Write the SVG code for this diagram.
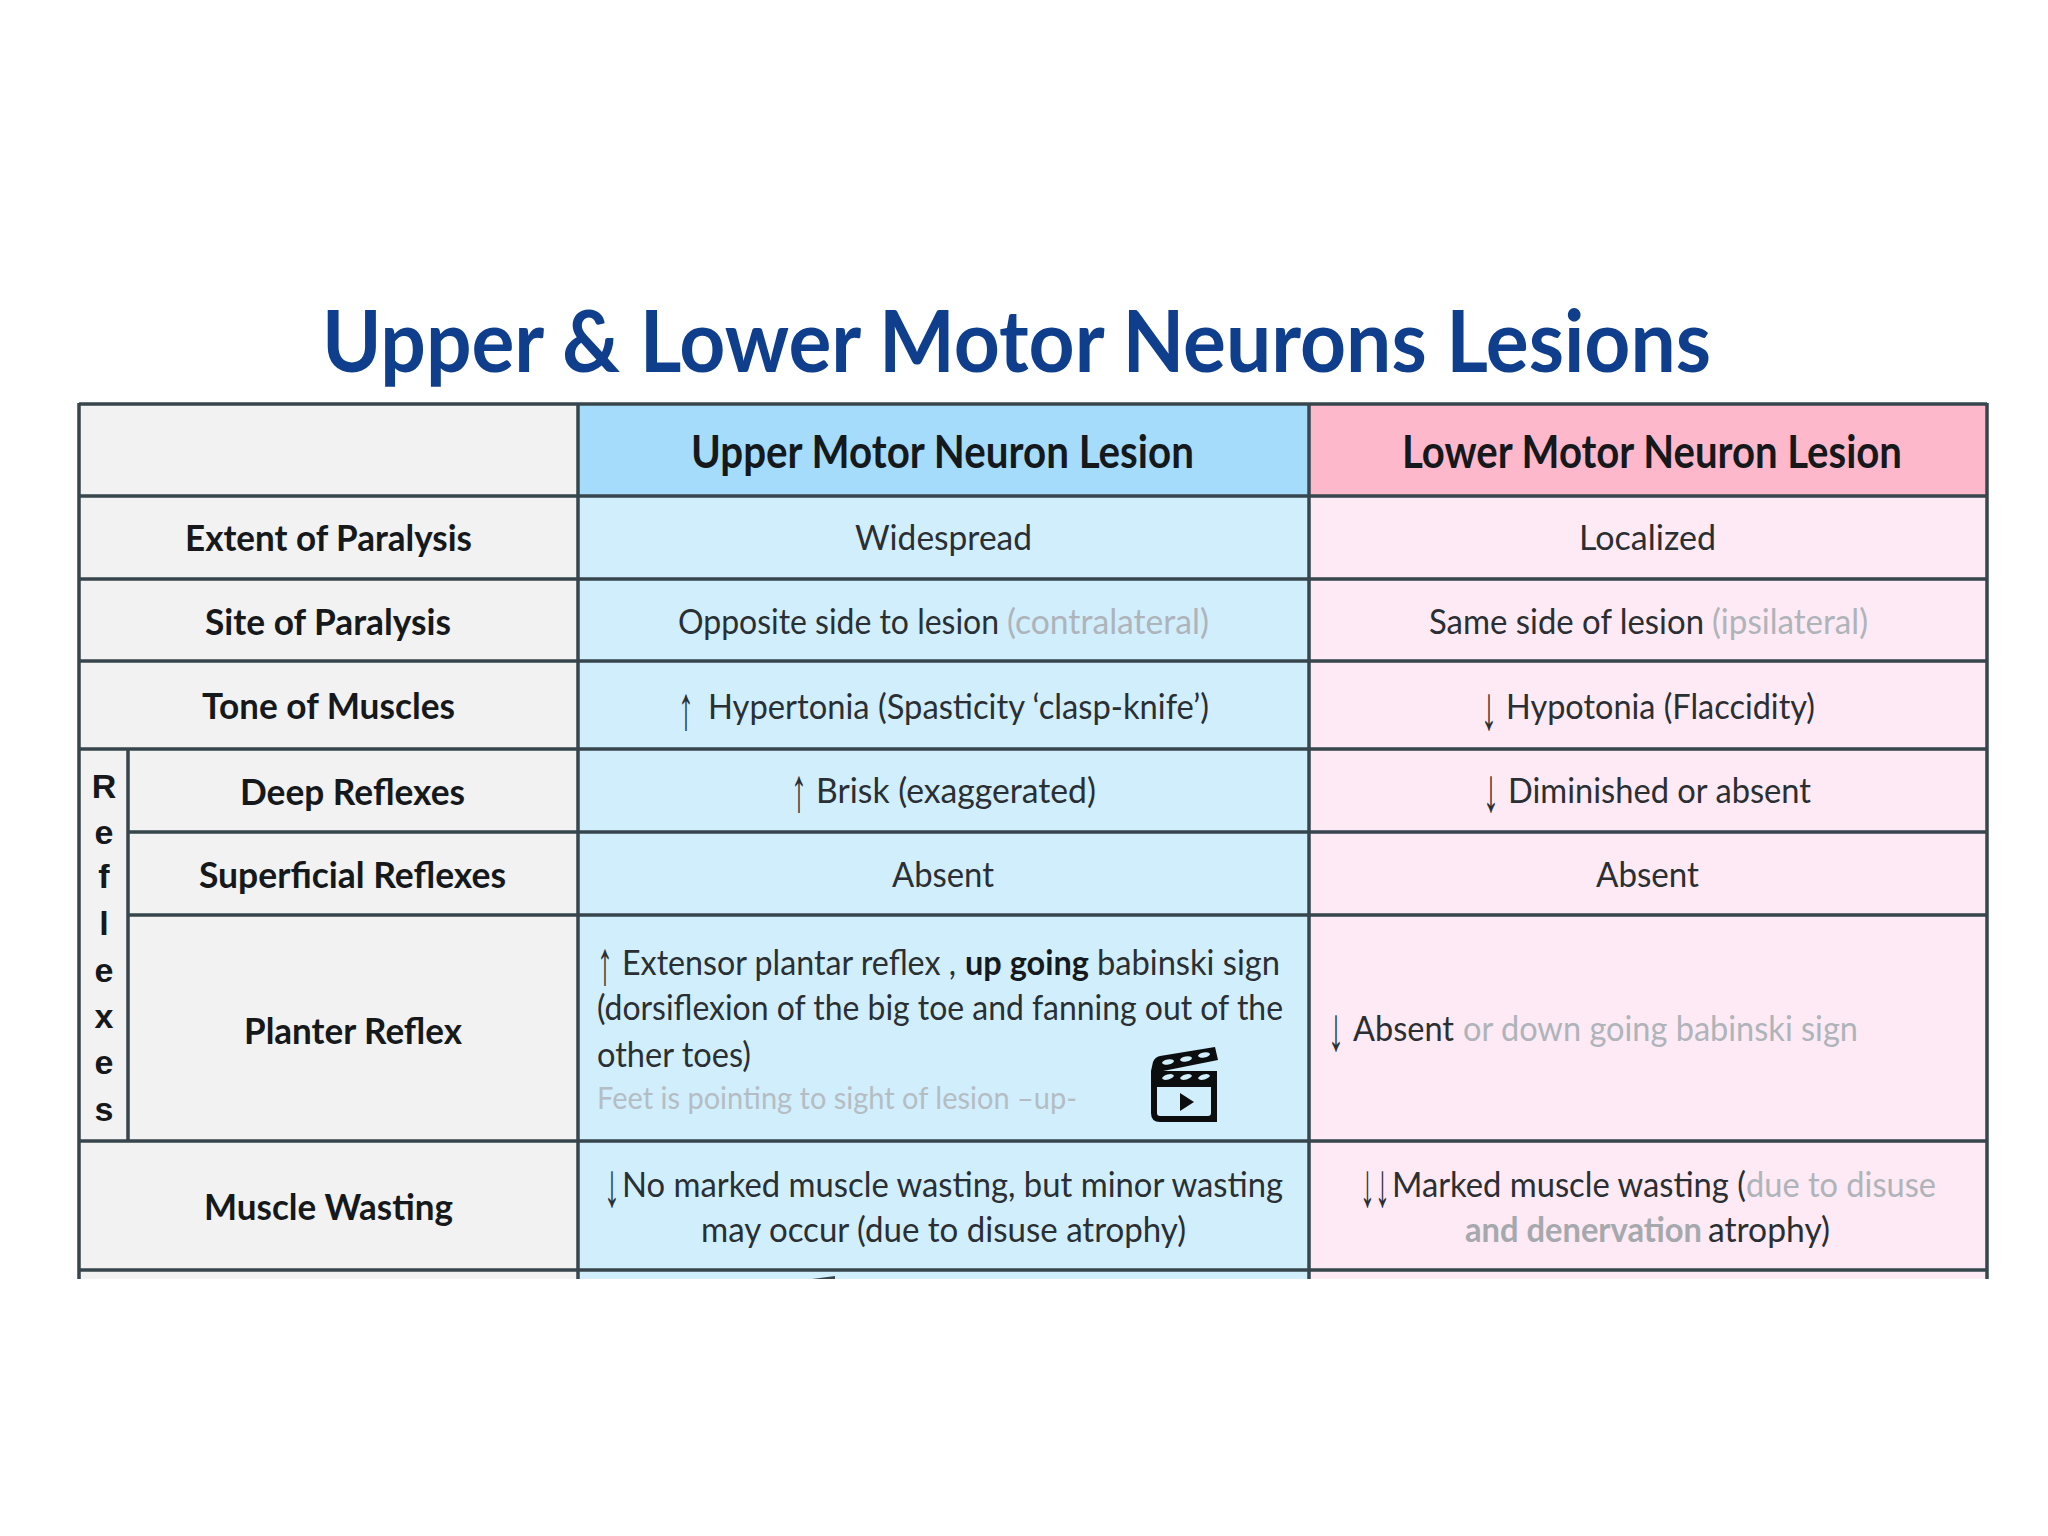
<svg xmlns="http://www.w3.org/2000/svg" width="2048" height="1536" viewBox="0 0 2048 1536">
<style>
text{font-family:"Lato","Liberation Sans",sans-serif;fill:#2a2f33;font-size:35px}
.t{fill:#0f3f8c;font-size:86px;font-weight:700}
.h{fill:#15191c;font-size:45px;font-weight:700}
.l{fill:#15191c;font-size:37px;font-weight:700}
.r{fill:#15191c;font-size:34px;font-weight:700;text-anchor:middle;font-family:"Liberation Sans",sans-serif}
.g{fill:#aeb4b9}
.f{fill:#b5bdc3;font-size:31px}
.b{font-weight:700;fill:#15191c}
.gb{font-weight:700;fill:#a5a9ad}
.a{font-family:"Liberation Sans",sans-serif;font-size:62px;text-anchor:middle}
.ln{stroke:#37464c;stroke-width:3.5;fill:none}
</style>
<defs><clipPath id="c"><rect x="0" y="0" width="2048" height="1279"/></clipPath></defs>
<rect width="2048" height="1536" fill="#fff"/>
<text class="t" x="322" y="372" textLength="1389" lengthAdjust="spacingAndGlyphs">Upper &amp; Lower Motor Neurons Lesions</text>
<g id="table" clip-path="url(#c)">
<rect x="79" y="404" width="498" height="880" fill="#f2f2f2"/>
<rect x="577" y="404" width="732" height="91" fill="#a6dcfb"/>
<rect x="1309" y="404" width="678" height="91" fill="#fdb8cb"/>
<rect x="577" y="495" width="732" height="790" fill="#d1eefd"/>
<rect x="1309" y="495" width="678" height="790" fill="#fdeaf4"/>
<path class="ln" d="M79 404H1987M79 496H1987M79 579H1987M79 661H1987M79 749H1987M128 832H1987M128 915H1987M79 1141H1987M79 1270H1987M79 403V1284M578 403V1284M1309 403V1284M1987 403V1284M128 749V1141"/>
<path d="M812 1279L835 1276V1280H812Z" fill="#37464c"/>
</g>
<g id="headers">
<text class="h" x="691" y="468" textLength="503" lengthAdjust="spacingAndGlyphs">Upper Motor Neuron Lesion</text>
<text class="h" x="1402" y="468" textLength="500" lengthAdjust="spacingAndGlyphs">Lower Motor Neuron Lesion</text>
</g>
<g id="row-labels" transform="translate(0,-1)">
<text class="l" x="185" y="552" textLength="287" lengthAdjust="spacingAndGlyphs">Extent of Paralysis</text>
<text class="l" x="205" y="636" textLength="246" lengthAdjust="spacingAndGlyphs">Site of Paralysis</text>
<text class="l" x="202" y="720" textLength="253" lengthAdjust="spacingAndGlyphs">Tone of Muscles</text>
<text class="l" x="240" y="806" textLength="225" lengthAdjust="spacingAndGlyphs">Deep Reflexes</text>
<text class="l" x="199" y="889" textLength="307" lengthAdjust="spacingAndGlyphs">Superficial Reflexes</text>
<text class="l" x="244" y="1045" textLength="218" lengthAdjust="spacingAndGlyphs">Planter Reflex</text>
<text class="l" x="204" y="1221" textLength="249" lengthAdjust="spacingAndGlyphs">Muscle Wasting</text>
</g>
<g id="reflexes" transform="translate(0,-1)">
<text class="r" x="104" y="799">R</text><text class="r" x="104" y="845">e</text><text class="r" x="104" y="889">f</text><text class="r" x="104" y="936">l</text><text class="r" x="104" y="983">e</text><text class="r" x="104" y="1029">x</text><text class="r" x="104" y="1075">e</text><text class="r" x="104" y="1122">s</text>
</g>
<g id="upper-cells" transform="translate(0,-1)">
<text x="855" y="551" textLength="177" lengthAdjust="spacingAndGlyphs">Widespread</text>
<text x="678" y="635" textLength="321" lengthAdjust="spacingAndGlyphs">Opposite side to lesion</text>
<text class="g" x="1007" y="635" textLength="202" lengthAdjust="spacingAndGlyphs">(contralateral)</text>
<text class="a" x="686" y="730" textLength="16" lengthAdjust="spacingAndGlyphs">↑</text>
<text x="708" y="720" textLength="501" lengthAdjust="spacingAndGlyphs">Hypertonia (Spasticity ‘clasp-knife’)</text>
<text class="a" x="799" y="812" textLength="16" lengthAdjust="spacingAndGlyphs">↑</text>
<text x="816" y="804" textLength="280" lengthAdjust="spacingAndGlyphs">Brisk (exaggerated)</text>
<text x="892" y="888" textLength="102" lengthAdjust="spacingAndGlyphs">Absent</text>
<text class="a" x="605" y="985" textLength="16" lengthAdjust="spacingAndGlyphs">↑</text>
<text x="622" y="976" textLength="334" lengthAdjust="spacingAndGlyphs">Extensor plantar reflex ,</text>
<text class="b" x="965" y="976" textLength="124" lengthAdjust="spacingAndGlyphs">up going</text>
<text x="1097" y="976" textLength="183" lengthAdjust="spacingAndGlyphs">babinski sign</text>
<text x="597" y="1021" textLength="686" lengthAdjust="spacingAndGlyphs">(dorsiflexion of the big toe and fanning out of the</text>
<text x="597" y="1068" textLength="154" lengthAdjust="spacingAndGlyphs">other toes)</text>
<text class="f" x="597" y="1110" textLength="480" lengthAdjust="spacingAndGlyphs">Feet is pointing to sight of lesion –up-</text>
<text class="a" x="612" y="1207" textLength="16" lengthAdjust="spacingAndGlyphs">↓</text>
<text x="622" y="1198" textLength="661" lengthAdjust="spacingAndGlyphs">No marked muscle wasting, but minor wasting</text>
<text x="701" y="1243" textLength="485" lengthAdjust="spacingAndGlyphs">may occur (due to disuse atrophy)</text>
</g>
<g id="clapper">
<path d="M1151 1071L1153 1062Q1155 1057 1160 1056L1215 1047L1218 1060L1163 1071ZM1151 1071H1217V1122H1160Q1151 1122 1151 1113ZM1157 1087V1113Q1157 1116 1160 1116H1208Q1211 1116 1211 1113V1087Z" fill="#0b0d0e" fill-rule="evenodd"/>
<path d="M1180 1093L1194 1102L1180 1111Z" fill="#0b0d0e"/>
<g fill="#d1eefd"><ellipse cx="1168" cy="1062" rx="6" ry="2.5" transform="rotate(-10 1168 1062)"/><ellipse cx="1186" cy="1059" rx="6" ry="2.5" transform="rotate(-10 1186 1059)"/><ellipse cx="1204" cy="1055" rx="6" ry="2.5" transform="rotate(-10 1204 1055)"/><ellipse cx="1168" cy="1077" rx="6" ry="2.5" transform="rotate(-15 1168 1077)"/><ellipse cx="1186" cy="1077" rx="6" ry="2.5" transform="rotate(-15 1186 1077)"/><ellipse cx="1204" cy="1077" rx="6" ry="2.5" transform="rotate(-15 1204 1077)"/></g>
</g>
<g id="lower-cells" transform="translate(0,-1)">
<text x="1579" y="551" textLength="137" lengthAdjust="spacingAndGlyphs">Localized</text>
<text x="1429" y="635" textLength="275" lengthAdjust="spacingAndGlyphs">Same side of lesion</text>
<text class="g" x="1712" y="635" textLength="156" lengthAdjust="spacingAndGlyphs">(ipsilateral)</text>
<text class="a" x="1489" y="730" textLength="16" lengthAdjust="spacingAndGlyphs">↓</text>
<text x="1506" y="720" textLength="309" lengthAdjust="spacingAndGlyphs">Hypotonia (Flaccidity)</text>
<text class="a" x="1491" y="812" textLength="16" lengthAdjust="spacingAndGlyphs">↓</text>
<text x="1508" y="804" textLength="303" lengthAdjust="spacingAndGlyphs">Diminished or absent</text>
<text x="1596" y="888" textLength="103" lengthAdjust="spacingAndGlyphs">Absent</text>
<text class="a" x="1336" y="1051" textLength="16" lengthAdjust="spacingAndGlyphs">↓</text>
<text x="1353" y="1042" textLength="101" lengthAdjust="spacingAndGlyphs">Absent</text>
<text class="g" x="1463" y="1042" textLength="395" lengthAdjust="spacingAndGlyphs">or down going babinski sign</text>
<text class="a" x="1375" y="1207" textLength="30" lengthAdjust="spacingAndGlyphs">↓↓</text>
<text x="1392" y="1198" textLength="354" lengthAdjust="spacingAndGlyphs">Marked muscle wasting (</text>
<text class="g" x="1746" y="1198" textLength="190" lengthAdjust="spacingAndGlyphs">due to disuse</text>
<text class="gb" x="1465" y="1243" textLength="237" lengthAdjust="spacingAndGlyphs">and denervation</text>
<text x="1708" y="1243" textLength="122" lengthAdjust="spacingAndGlyphs">atrophy)</text>
</g>
</svg>
